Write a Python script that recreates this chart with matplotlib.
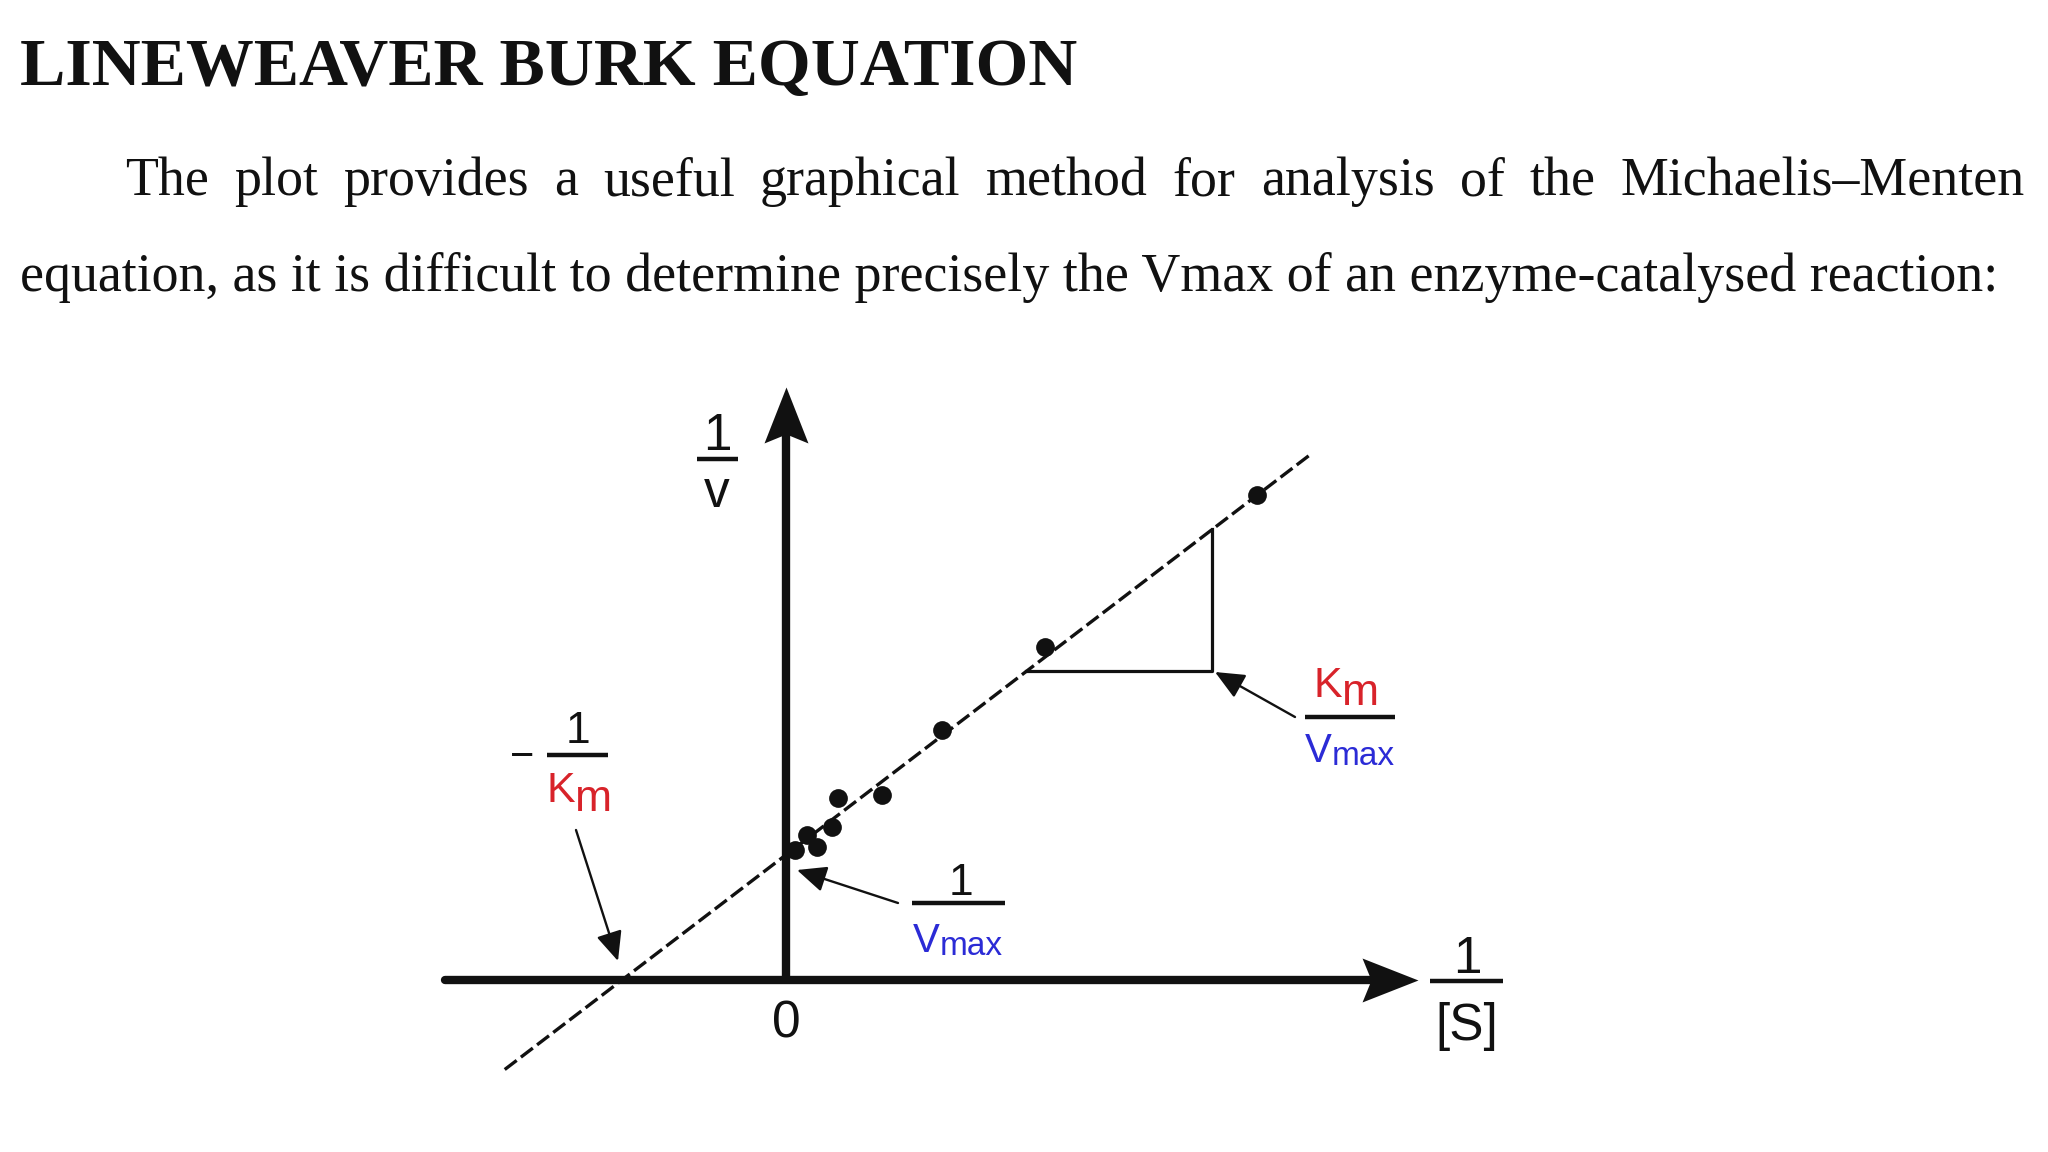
import numpy as np
import matplotlib
matplotlib.use("Agg")
import matplotlib.pyplot as plt

# Page text above the diagram
title_text = "LINEWEAVER BURK EQUATION"
para_line1 = ("The plot provides a useful graphical method for analysis "
              "of the Michaelis\u2013Menten")
para_line2 = ("equation, as it is difficult to determine precisely the Vmax "
              "of an enzyme-catalysed reaction:")

# Measured points: x = 1/[S], y = 1/v (arbitrary units)
inv_s = [0.11, 0.25, 0.375, 0.56, 0.64, 1.17, 1.90, 3.16, 5.74]
inv_v = [1.585, 1.77, 1.625, 1.87, 2.22, 2.26, 3.05, 4.06, 5.91]

# Constants of the fitted line 1/v = 1/Vmax + (Km/Vmax) * 1/[S]
km = 0.5
vmax = 0.655

# How far the fitted line and the two axes run
fit_x = [-3.43, 6.41]
x_axis = [-4.16, 7.71]
y_axis = [0.0, 7.235]
# x range of the slope triangle
tri_x = [2.93, 5.20]

RED = "#d8232a"
BLUE = "#2b2bd6"
INK = "#111111"
SANS = "Liberation Sans"
SERIF = "Liberation Serif"

W, H = 2048, 1152
ORIGIN = (786, 980)   # pixel position of (0, 0)
PPU = 82.0            # pixels per data unit, same on both axes


def p2d(px, py):
    # pixel (from top left) -> data coordinates
    return (px - ORIGIN[0]) / PPU, (ORIGIN[1] - py) / PPU


def fit(x):
    return 1.0 / vmax + km / vmax * np.asarray(x)


def head_marker(direction):
    # barbed arrow head, tip sits on the marker position
    head = np.array([[0, 0], [-56, 22], [-47, 0], [-56, -22], [0, 0]], float)
    if direction == "up":
        head = np.column_stack([-head[:, 1], head[:, 0]])
    return head


def label(ax, s, px, py, size, color=INK, ha="center"):
    x, y = p2d(px, py)
    ax.text(x, y, s, ha=ha, va="baseline", fontsize=size, color=color,
            family=SANS)


def bar(ax, px0, px1, py, lw=3.2):
    x0, y = p2d(px0, py)
    x1, _ = p2d(px1, py)
    ax.plot([x0, x1], [y, y], color=INK, lw=lw, solid_capstyle="butt")


def two_part(ax, big, small, split_px, base_py, drop, big_size, small_size,
             color):
    # letter with a lowered tail, e.g. K + m, V + max
    label(ax, big, split_px, base_py, big_size, color, ha="right")
    label(ax, small, split_px, base_py + drop, small_size, color, ha="left")


def pointer(ax, start_px, tip_px):
    ax.annotate("", xy=p2d(*tip_px), xytext=p2d(*start_px),
                arrowprops=dict(arrowstyle="-|>,head_length=0.9,head_width=0.4",
                                mutation_scale=20, color=INK, lw=1.7,
                                shrinkA=0, shrinkB=0))


def fit_width(fig, t, target):
    # scale the font so the text spans the measured width
    renderer = fig.canvas.get_renderer()
    w = t.get_window_extent(renderer).width
    t.set_fontsize(t.get_fontsize() * target / w)


def justify_line(fig, text, x0, x1, y, **kw):
    words = text.split()
    texts = [fig.text(0, 1 - y / H, w, ha="left", va="baseline", **kw)
             for w in words]
    renderer = fig.canvas.get_renderer()
    widths = [t.get_window_extent(renderer).width for t in texts]
    gap = (x1 - x0 - sum(widths)) / (len(words) - 1)
    x = x0
    for t, w in zip(texts, widths):
        t.set_x(x / W)
        x += w + gap


def draw_text(fig):
    title = fig.text(20 / W, 1 - 85 / H, title_text, ha="left",
                     va="baseline", fontsize=50, fontweight="bold",
                     family=SERIF, color=INK)
    fit_width(fig, title, 1058)
    line2 = fig.text(20 / W, 1 - 291 / H, para_line2, ha="left",
                     va="baseline", fontsize=40, family=SERIF, color=INK)
    fit_width(fig, line2, 1972)
    justify_line(fig, para_line1, 125, 2025, 195,
                 fontsize=line2.get_fontsize(), family=SERIF, color=INK)


def draw_plot(ax):
    ax.set_xlim(-ORIGIN[0] / PPU, (W - ORIGIN[0]) / PPU)
    ax.set_ylim(-(H - ORIGIN[1]) / PPU, ORIGIN[1] / PPU)
    ax.axis("off")

    # axes with arrow heads
    ax.plot([x_axis[0], x_axis[1] - 0.3], [0, 0], color=INK, lw=6,
            solid_capstyle="round", zorder=3)
    ax.plot([0, 0], [y_axis[0], y_axis[1] - 0.3], color=INK, lw=6,
            solid_capstyle="butt", zorder=3)
    ax.plot([x_axis[1]], [0], marker=head_marker("right"), ms=80.6,
            color=INK, mew=0, zorder=4)
    ax.plot([0], [y_axis[1]], marker=head_marker("up"), ms=80.6,
            color=INK, mew=0, zorder=4)

    # fitted line, data points and the slope triangle
    ax.plot(fit_x, fit(fit_x), color=INK, lw=2.4, ls=(0, (4.5, 1.6)),
            zorder=2)
    ax.plot(inv_s, inv_v, "o", color=INK, ms=13.5, mew=0, zorder=5)
    ty = fit(tri_x)
    ax.plot([tri_x[0], tri_x[1], tri_x[1]], [ty[0], ty[0], ty[1]],
            color=INK, lw=2.3, zorder=2)

    # axis labels
    label(ax, "1", 717, 450, 37)
    bar(ax, 697, 738, 459)
    label(ax, "v", 717, 507, 37)
    label(ax, "0", 786, 1037, 37)
    label(ax, "1", 1467, 973, 37)
    bar(ax, 1430, 1503, 981)
    label(ax, "[S]", 1467, 1040, 37)

    # -1/Km at the x intercept
    label(ax, "\u2212", 522, 768, 30)
    label(ax, "1", 578, 743, 32)
    bar(ax, 547, 608, 755)
    two_part(ax, "K", "m", 575, 802, 9, 31, 32, RED)
    pointer(ax, (576, 830), (618, 961))

    # 1/Vmax at the y intercept
    label(ax, "1", 961, 895, 32)
    bar(ax, 912, 1005, 903)
    two_part(ax, "V", "max", 940, 952, 3, 29, 24, BLUE)
    pointer(ax, (898, 903), (797, 870))

    # Km/Vmax slope
    two_part(ax, "K", "m", 1342, 697, 8, 31, 32, RED)
    bar(ax, 1305, 1395, 717)
    two_part(ax, "V", "max", 1332, 762, 3, 29, 24, BLUE)
    pointer(ax, (1295, 717), (1215, 672))


def main():
    fig = plt.figure(figsize=(W / 100, H / 100), dpi=100)
    fig.patch.set_facecolor("white")
    ax = fig.add_axes([0, 0, 1, 1])
    draw_plot(ax)
    draw_text(fig)
    fig.savefig("out.png", dpi=100, facecolor="white")


if __name__ == "__main__":
    main()
